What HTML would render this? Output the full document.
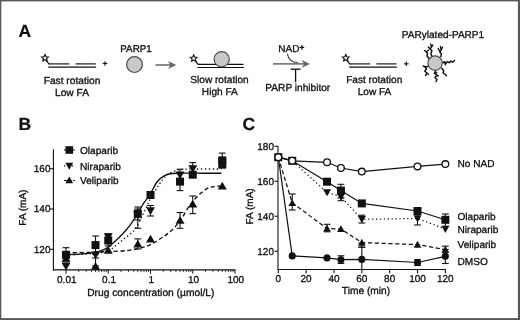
<!DOCTYPE html>
<html><head><meta charset="utf-8"><title>Figure</title>
<style>
html,body{margin:0;padding:0;background:#fff;}
body{width:520px;height:320px;overflow:hidden;position:relative;}
svg{position:absolute;left:0;top:0;text-rendering:geometricPrecision;font-family:'Liberation Sans', Arial, sans-serif;}
</style></head><body>
<svg width="520" height="320" viewBox="0 0 520 320">
<text x="18.5" y="37" font-size="17.5" text-anchor="start" font-weight="bold" fill="#111" stroke="#111" stroke-width="0.2" >A</text>
<text x="18.5" y="130" font-size="17.5" text-anchor="start" font-weight="bold" fill="#111" stroke="#111" stroke-width="0.2" >B</text>
<text x="242.5" y="129.5" font-size="17.5" text-anchor="start" font-weight="bold" fill="#111" stroke="#111" stroke-width="0.2" >C</text>
<line x1="46.20" y1="60.70" x2="49.60" y2="64.30" stroke="#111" stroke-width="1.15" />
<polygon points="45.00,54.60 45.99,56.74 48.33,57.02 46.60,58.62 47.06,60.93 45.00,59.78 42.94,60.93 43.40,58.62 41.67,57.02 44.01,56.74" fill="#fff" stroke="#111" stroke-width="1.2" stroke-linejoin="miter"/>
<line x1="48.80" y1="63.90" x2="69.40" y2="63.90" stroke="#111" stroke-width="1.15" />
<line x1="75.60" y1="63.90" x2="95.80" y2="63.90" stroke="#111" stroke-width="1.15" />
<line x1="48.30" y1="67.10" x2="96.10" y2="67.10" stroke="#111" stroke-width="1.15" />
<line x1="102.70" y1="63.50" x2="107.30" y2="63.50" stroke="#111" stroke-width="1.1" />
<line x1="105.00" y1="61.20" x2="105.00" y2="65.80" stroke="#111" stroke-width="1.1" />
<text x="72" y="83.5" font-size="10.2" text-anchor="middle" font-weight="normal" fill="#111" stroke="#111" stroke-width="0.32" >Fast rotation</text>
<text x="72" y="95.6" font-size="10.2" text-anchor="middle" font-weight="normal" fill="#111" stroke="#111" stroke-width="0.32" >Low FA</text>
<text x="136" y="51.8" font-size="9.8" text-anchor="middle" font-weight="normal" fill="#111" stroke="#111" stroke-width="0.32" >PARP1</text>
<circle cx="134.50" cy="64.60" r="7.9" fill="#c9c9c9" stroke="#4a4a4a" stroke-width="1.2"/>
<line x1="155.50" y1="65.00" x2="171.30" y2="65.00" stroke="#666" stroke-width="1.5" />
<polygon points="176.30,65.00 168.10,61.10 170.30,65.00 168.10,68.90" fill="#666"/>
<line x1="195.20" y1="61.00" x2="198.50" y2="64.60" stroke="#111" stroke-width="1.15" />
<polygon points="193.70,54.90 194.69,57.04 197.03,57.32 195.30,58.92 195.76,61.23 193.70,60.08 191.64,61.23 192.10,58.92 190.37,57.32 192.71,57.04" fill="#fff" stroke="#111" stroke-width="1.2" stroke-linejoin="miter"/>
<line x1="197.80" y1="64.40" x2="243.50" y2="64.40" stroke="#111" stroke-width="1.15" />
<line x1="197.30" y1="67.50" x2="244.00" y2="67.50" stroke="#111" stroke-width="1.15" />
<circle cx="221.70" cy="59.20" r="7.6" fill="#c9c9c9" stroke="#4a4a4a" stroke-width="1.2"/>
<text x="219.5" y="83.4" font-size="10.1" text-anchor="middle" font-weight="normal" fill="#111" stroke="#111" stroke-width="0.32" >Slow rotation</text>
<text x="219.8" y="95.4" font-size="10.1" text-anchor="middle" font-weight="normal" fill="#111" stroke="#111" stroke-width="0.32" >High FA</text>
<text x="278.3" y="52.2" font-size="10" text-anchor="start" font-weight="normal" fill="#111" stroke="#111" stroke-width="0.32" >NAD</text>
<line x1="299.60" y1="47.40" x2="304.20" y2="47.40" stroke="#111" stroke-width="1.25" />
<line x1="301.90" y1="45.10" x2="301.90" y2="49.70" stroke="#111" stroke-width="1.25" />
<line x1="273.00" y1="63.90" x2="305.00" y2="63.90" stroke="#666" stroke-width="1.5" />
<polygon points="310.00,63.90 301.80,60.00 304.00,63.90 301.80,67.80" fill="#666"/>
<path d="M287.3,53.6 C288.2,58.5 291.5,62.3 298,62.8" fill="none" stroke="#444" stroke-width="1.1"/>
<line x1="290.60" y1="69.20" x2="300.60" y2="69.20" stroke="#111" stroke-width="1.3" />
<line x1="295.60" y1="69.20" x2="295.60" y2="82.20" stroke="#111" stroke-width="1.3" />
<text x="297.8" y="91.2" font-size="10.15" text-anchor="middle" font-weight="normal" fill="#111" stroke="#111" stroke-width="0.32" >PARP inhibitor</text>
<line x1="347.00" y1="60.70" x2="350.40" y2="64.30" stroke="#111" stroke-width="1.15" />
<polygon points="345.80,54.60 346.79,56.74 349.13,57.02 347.40,58.62 347.86,60.93 345.80,59.78 343.74,60.93 344.20,58.62 342.47,57.02 344.81,56.74" fill="#fff" stroke="#111" stroke-width="1.2" stroke-linejoin="miter"/>
<line x1="349.60" y1="63.90" x2="370.20" y2="63.90" stroke="#111" stroke-width="1.15" />
<line x1="376.40" y1="63.90" x2="396.60" y2="63.90" stroke="#111" stroke-width="1.15" />
<line x1="349.10" y1="67.10" x2="396.90" y2="67.10" stroke="#111" stroke-width="1.15" />
<text x="374.2" y="83.3" font-size="10.1" text-anchor="middle" font-weight="normal" fill="#111" stroke="#111" stroke-width="0.32" >Fast rotation</text>
<text x="374.5" y="95.4" font-size="10.1" text-anchor="middle" font-weight="normal" fill="#111" stroke="#111" stroke-width="0.32" >Low FA</text>
<line x1="404.00" y1="63.80" x2="408.60" y2="63.80" stroke="#111" stroke-width="1.1" />
<line x1="406.30" y1="61.50" x2="406.30" y2="66.10" stroke="#111" stroke-width="1.1" />
<text x="443" y="37.6" font-size="10.05" text-anchor="middle" font-weight="normal" fill="#111" stroke="#111" stroke-width="0.32" >PARylated-PARP1</text>
<path d="M431.88,56.00 L430.75,53.50 L432.00,51.00 L430.25,49.00 L431.50,46.75 L430.75,44.25" fill="none" stroke="#111" stroke-width="1.45" stroke-linejoin="round" stroke-linecap="round"/>
<path d="M430.25,49.00 L428.25,47.00" fill="none" stroke="#111" stroke-width="1.45" stroke-linejoin="round" stroke-linecap="round"/>
<path d="M431.50,46.75 L432.75,45.00" fill="none" stroke="#111" stroke-width="1.45" stroke-linejoin="round" stroke-linecap="round"/>
<path d="M429.00,58.50 L427.00,56.00 L427.50,53.50 L426.25,51.50" fill="none" stroke="#111" stroke-width="1.45" stroke-linejoin="round" stroke-linecap="round"/>
<path d="M424.50,50.50 L426.25,51.75 L428.50,50.25" fill="none" stroke="#111" stroke-width="1.45" stroke-linejoin="round" stroke-linecap="round"/>
<path d="M440.75,56.50 L441.50,54.00 L440.00,52.00 L441.25,49.75 L440.50,46.50" fill="none" stroke="#111" stroke-width="1.45" stroke-linejoin="round" stroke-linecap="round"/>
<path d="M440.00,52.00 L438.25,48.50" fill="none" stroke="#111" stroke-width="1.45" stroke-linejoin="round" stroke-linecap="round"/>
<path d="M441.25,49.75 L442.50,47.25" fill="none" stroke="#111" stroke-width="1.45" stroke-linejoin="round" stroke-linecap="round"/>
<path d="M442.75,62.75 L444.50,61.75 L446.00,63.25 L447.50,61.50 L449.25,62.75 L450.75,61.00 L452.50,62.25 L454.50,60.50" fill="none" stroke="#111" stroke-width="1.45" stroke-linejoin="round" stroke-linecap="round"/>
<path d="M444.75,62.50 L445.50,64.75" fill="none" stroke="#111" stroke-width="1.45" stroke-linejoin="round" stroke-linecap="round"/>
<path d="M441.75,68.25 L443.75,71.00 L443.00,73.00 L445.00,74.25 L446.50,75.75" fill="none" stroke="#111" stroke-width="1.45" stroke-linejoin="round" stroke-linecap="round"/>
<path d="M435.75,70.50 L434.50,73.25 L436.75,75.25 L435.00,77.50 L437.00,79.50 L436.00,81.50" fill="none" stroke="#111" stroke-width="1.45" stroke-linejoin="round" stroke-linecap="round"/>
<path d="M434.50,73.25 L436.75,72.75" fill="none" stroke="#111" stroke-width="1.45" stroke-linejoin="round" stroke-linecap="round"/>
<path d="M436.75,75.25 L438.25,76.00" fill="none" stroke="#111" stroke-width="1.45" stroke-linejoin="round" stroke-linecap="round"/>
<path d="M428.00,66.50 L425.00,66.75 L426.50,69.00 L424.75,71.00 L427.00,73.25 L425.50,75.50" fill="none" stroke="#111" stroke-width="1.45" stroke-linejoin="round" stroke-linecap="round"/>
<path d="M425.00,66.75 L423.25,66.00" fill="none" stroke="#111" stroke-width="1.45" stroke-linejoin="round" stroke-linecap="round"/>
<path d="M427.00,73.25 L428.50,74.25" fill="none" stroke="#111" stroke-width="1.45" stroke-linejoin="round" stroke-linecap="round"/>
<circle cx="435.10" cy="63.10" r="7.2" fill="#c9c9c9" stroke="#4a4a4a" stroke-width="1.2"/>
<line x1="53.40" y1="149.20" x2="53.40" y2="270.40" stroke="#111" stroke-width="1.1" />
<line x1="52.90" y1="269.90" x2="235.50" y2="269.90" stroke="#111" stroke-width="1.1" />
<line x1="50.20" y1="249.30" x2="53.40" y2="249.30" stroke="#111" stroke-width="1.1" />
<text x="50.5" y="252.70000000000002" font-size="10" text-anchor="end" font-weight="normal" fill="#111" stroke="#111" stroke-width="0.32" >120</text>
<line x1="50.20" y1="209.00" x2="53.40" y2="209.00" stroke="#111" stroke-width="1.1" />
<text x="50.5" y="212.4" font-size="10" text-anchor="end" font-weight="normal" fill="#111" stroke="#111" stroke-width="0.32" >140</text>
<line x1="50.20" y1="168.70" x2="53.40" y2="168.70" stroke="#111" stroke-width="1.1" />
<text x="50.5" y="172.1" font-size="10" text-anchor="end" font-weight="normal" fill="#111" stroke="#111" stroke-width="0.32" >160</text>
<line x1="66.00" y1="269.90" x2="66.00" y2="273.70" stroke="#111" stroke-width="1.0" />
<line x1="78.72" y1="269.90" x2="78.72" y2="272.10" stroke="#111" stroke-width="0.8" />
<line x1="86.16" y1="269.90" x2="86.16" y2="272.10" stroke="#111" stroke-width="0.8" />
<line x1="91.44" y1="269.90" x2="91.44" y2="272.10" stroke="#111" stroke-width="0.8" />
<line x1="95.53" y1="269.90" x2="95.53" y2="272.10" stroke="#111" stroke-width="0.8" />
<line x1="98.88" y1="269.90" x2="98.88" y2="272.10" stroke="#111" stroke-width="0.8" />
<line x1="101.71" y1="269.90" x2="101.71" y2="272.10" stroke="#111" stroke-width="0.8" />
<line x1="104.16" y1="269.90" x2="104.16" y2="272.10" stroke="#111" stroke-width="0.8" />
<line x1="106.32" y1="269.90" x2="106.32" y2="272.10" stroke="#111" stroke-width="0.8" />
<line x1="108.25" y1="269.90" x2="108.25" y2="273.70" stroke="#111" stroke-width="1.0" />
<line x1="120.97" y1="269.90" x2="120.97" y2="272.10" stroke="#111" stroke-width="0.8" />
<line x1="128.41" y1="269.90" x2="128.41" y2="272.10" stroke="#111" stroke-width="0.8" />
<line x1="133.69" y1="269.90" x2="133.69" y2="272.10" stroke="#111" stroke-width="0.8" />
<line x1="137.78" y1="269.90" x2="137.78" y2="272.10" stroke="#111" stroke-width="0.8" />
<line x1="141.13" y1="269.90" x2="141.13" y2="272.10" stroke="#111" stroke-width="0.8" />
<line x1="143.96" y1="269.90" x2="143.96" y2="272.10" stroke="#111" stroke-width="0.8" />
<line x1="146.41" y1="269.90" x2="146.41" y2="272.10" stroke="#111" stroke-width="0.8" />
<line x1="148.57" y1="269.90" x2="148.57" y2="272.10" stroke="#111" stroke-width="0.8" />
<line x1="150.50" y1="269.90" x2="150.50" y2="273.70" stroke="#111" stroke-width="1.0" />
<line x1="163.22" y1="269.90" x2="163.22" y2="272.10" stroke="#111" stroke-width="0.8" />
<line x1="170.66" y1="269.90" x2="170.66" y2="272.10" stroke="#111" stroke-width="0.8" />
<line x1="175.94" y1="269.90" x2="175.94" y2="272.10" stroke="#111" stroke-width="0.8" />
<line x1="180.03" y1="269.90" x2="180.03" y2="272.10" stroke="#111" stroke-width="0.8" />
<line x1="183.38" y1="269.90" x2="183.38" y2="272.10" stroke="#111" stroke-width="0.8" />
<line x1="186.21" y1="269.90" x2="186.21" y2="272.10" stroke="#111" stroke-width="0.8" />
<line x1="188.66" y1="269.90" x2="188.66" y2="272.10" stroke="#111" stroke-width="0.8" />
<line x1="190.82" y1="269.90" x2="190.82" y2="272.10" stroke="#111" stroke-width="0.8" />
<line x1="192.75" y1="269.90" x2="192.75" y2="273.70" stroke="#111" stroke-width="1.0" />
<line x1="205.47" y1="269.90" x2="205.47" y2="272.10" stroke="#111" stroke-width="0.8" />
<line x1="212.91" y1="269.90" x2="212.91" y2="272.10" stroke="#111" stroke-width="0.8" />
<line x1="218.19" y1="269.90" x2="218.19" y2="272.10" stroke="#111" stroke-width="0.8" />
<line x1="222.28" y1="269.90" x2="222.28" y2="272.10" stroke="#111" stroke-width="0.8" />
<line x1="225.63" y1="269.90" x2="225.63" y2="272.10" stroke="#111" stroke-width="0.8" />
<line x1="228.46" y1="269.90" x2="228.46" y2="272.10" stroke="#111" stroke-width="0.8" />
<line x1="230.91" y1="269.90" x2="230.91" y2="272.10" stroke="#111" stroke-width="0.8" />
<line x1="233.07" y1="269.90" x2="233.07" y2="272.10" stroke="#111" stroke-width="0.8" />
<line x1="235.00" y1="269.90" x2="235.00" y2="273.70" stroke="#111" stroke-width="1.0" />
<text x="66.8" y="283.2" font-size="10" text-anchor="middle" font-weight="normal" fill="#111" stroke="#111" stroke-width="0.32" >0.01</text>
<text x="109.05" y="283.2" font-size="10" text-anchor="middle" font-weight="normal" fill="#111" stroke="#111" stroke-width="0.32" >0.1</text>
<text x="151.3" y="283.2" font-size="10" text-anchor="middle" font-weight="normal" fill="#111" stroke="#111" stroke-width="0.32" >1</text>
<text x="193.55" y="283.2" font-size="10" text-anchor="middle" font-weight="normal" fill="#111" stroke="#111" stroke-width="0.32" >10</text>
<text x="235.8" y="283.2" font-size="10" text-anchor="middle" font-weight="normal" fill="#111" stroke="#111" stroke-width="0.32" >100</text>
<text x="150.8" y="296.4" font-size="10.25" text-anchor="middle" font-weight="normal" fill="#111" stroke="#111" stroke-width="0.32" >Drug concentration (µmol/L)</text>
<text transform="translate(26.2,207.6) rotate(-90)" font-size="10" text-anchor="middle" fill="#111" stroke="#111" stroke-width="0.32">FA (mA)</text>
<path d="M66.00,252.80 C70.00,252.73 83.13,252.60 90.00,252.40 C96.87,252.20 100.75,251.95 107.20,251.60 C113.65,251.25 122.12,251.20 128.70,250.30 C135.28,249.40 141.32,248.20 146.70,246.20 C152.08,244.20 156.82,240.97 161.00,238.30 C165.18,235.63 168.50,233.28 171.80,230.20 C175.10,227.12 177.82,223.93 180.80,219.80 C183.78,215.67 186.72,209.50 189.70,205.40 C192.68,201.30 195.70,198.07 198.70,195.20 C201.70,192.33 205.15,189.63 207.70,188.20 C210.25,186.77 211.78,186.97 214.00,186.60 C216.22,186.23 219.83,186.10 221.00,186.00" fill="none" stroke="#111" stroke-width="1.35" stroke-dasharray="4.2 2.6"/>
<path d="M66.00,254.60 C69.17,254.53 79.33,254.50 85.00,254.20 C90.67,253.90 96.50,253.30 100.00,252.80 C103.50,252.30 104.23,251.73 106.00,251.20 C107.77,250.67 108.90,250.62 110.60,249.60 C112.30,248.58 114.32,246.58 116.20,245.10 C118.08,243.62 120.02,242.20 121.90,240.70 C123.78,239.20 125.63,237.60 127.50,236.10 C129.37,234.60 131.47,233.43 133.10,231.70 C134.73,229.97 136.12,227.65 137.30,225.70 C138.48,223.75 139.25,221.90 140.20,220.00 C141.15,218.10 141.87,216.63 143.00,214.30 C144.13,211.97 145.67,208.72 147.00,206.00 C148.33,203.28 148.97,201.58 151.00,198.00 C153.03,194.42 156.63,188.25 159.20,184.50 C161.77,180.75 163.70,177.78 166.40,175.50 C169.10,173.22 172.12,171.87 175.40,170.80 C178.68,169.73 182.00,169.40 186.10,169.10 C190.20,168.80 194.10,169.02 200.00,169.00 C205.90,168.98 217.92,169.00 221.50,169.00" fill="none" stroke="#111" stroke-width="1.35" stroke-dasharray="1.3 2.6"/>
<path d="M66.00,254.60 C68.33,254.53 75.17,254.58 80.00,254.20 C84.83,253.82 90.83,253.13 95.00,252.30 C99.17,251.47 102.17,250.58 105.00,249.20 C107.83,247.82 109.65,245.95 112.00,244.00 C114.35,242.05 116.75,239.83 119.10,237.50 C121.45,235.17 124.00,232.45 126.10,230.00 C128.20,227.55 130.18,224.87 131.70,222.80 C133.22,220.73 134.23,219.08 135.20,217.60 C136.17,216.12 136.08,216.30 137.50,213.90 C138.92,211.50 141.70,206.32 143.70,203.20 C145.70,200.08 147.22,198.82 149.50,195.20 C151.78,191.58 154.88,184.77 157.40,181.50 C159.92,178.23 162.20,176.93 164.60,175.60 C167.00,174.27 168.90,173.90 171.80,173.50 C174.70,173.10 177.30,173.25 182.00,173.20 C186.70,173.15 193.42,173.20 200.00,173.20 C206.58,173.20 217.92,173.20 221.50,173.20" fill="none" stroke="#111" stroke-width="1.35" />
<polygon points="66.00,254.22 61.50,261.82 70.50,261.82" fill="#111"/>
<line x1="95.53" y1="258.00" x2="95.53" y2="266.00" stroke="#111" stroke-width="1.1" />
<line x1="92.13" y1="258.00" x2="98.93" y2="258.00" stroke="#111" stroke-width="1.1" />
<line x1="92.13" y1="266.00" x2="98.93" y2="266.00" stroke="#111" stroke-width="1.1" />
<polygon points="95.53,262.12 91.03,269.72 100.03,269.72" fill="#111"/>
<polygon points="108.25,246.12 103.75,253.72 112.75,253.72" fill="#111"/>
<line x1="137.78" y1="238.90" x2="137.78" y2="249.00" stroke="#111" stroke-width="1.1" />
<line x1="134.38" y1="238.90" x2="141.18" y2="238.90" stroke="#111" stroke-width="1.1" />
<line x1="134.38" y1="249.00" x2="141.18" y2="249.00" stroke="#111" stroke-width="1.1" />
<polygon points="137.78,239.82 133.28,247.42 142.28,247.42" fill="#111"/>
<polygon points="150.50,234.82 146.00,242.42 155.00,242.42" fill="#111"/>
<line x1="180.03" y1="212.50" x2="180.03" y2="228.30" stroke="#111" stroke-width="1.1" />
<line x1="176.63" y1="212.50" x2="183.43" y2="212.50" stroke="#111" stroke-width="1.1" />
<line x1="176.63" y1="228.30" x2="183.43" y2="228.30" stroke="#111" stroke-width="1.1" />
<polygon points="180.03,216.22 175.53,223.82 184.53,223.82" fill="#111"/>
<line x1="192.75" y1="196.00" x2="192.75" y2="213.60" stroke="#111" stroke-width="1.1" />
<line x1="189.35" y1="196.00" x2="196.15" y2="196.00" stroke="#111" stroke-width="1.1" />
<line x1="189.35" y1="213.60" x2="196.15" y2="213.60" stroke="#111" stroke-width="1.1" />
<polygon points="192.75,200.02 188.25,207.62 197.25,207.62" fill="#111"/>
<polygon points="222.28,181.82 217.78,189.42 226.78,189.42" fill="#111"/>
<polygon points="66.00,270.38 61.50,262.78 70.50,262.78" fill="#111"/>
<polygon points="95.53,258.98 91.03,251.38 100.03,251.38" fill="#111"/>
<polygon points="108.25,240.78 103.75,233.18 112.75,233.18" fill="#111"/>
<line x1="137.78" y1="209.00" x2="137.78" y2="228.30" stroke="#111" stroke-width="1.1" />
<line x1="134.38" y1="209.00" x2="141.18" y2="209.00" stroke="#111" stroke-width="1.1" />
<line x1="134.38" y1="228.30" x2="141.18" y2="228.30" stroke="#111" stroke-width="1.1" />
<polygon points="137.78,219.18 133.28,211.58 142.28,211.58" fill="#111"/>
<line x1="150.50" y1="205.50" x2="150.50" y2="216.00" stroke="#111" stroke-width="1.1" />
<line x1="147.10" y1="205.50" x2="153.90" y2="205.50" stroke="#111" stroke-width="1.1" />
<line x1="147.10" y1="216.00" x2="153.90" y2="216.00" stroke="#111" stroke-width="1.1" />
<polygon points="150.50,214.88 146.00,207.28 155.00,207.28" fill="#111"/>
<polygon points="180.03,179.18 175.53,171.58 184.53,171.58" fill="#111"/>
<line x1="192.75" y1="162.60" x2="192.75" y2="176.00" stroke="#111" stroke-width="1.1" />
<line x1="189.35" y1="162.60" x2="196.15" y2="162.60" stroke="#111" stroke-width="1.1" />
<line x1="189.35" y1="176.00" x2="196.15" y2="176.00" stroke="#111" stroke-width="1.1" />
<polygon points="192.75,172.78 188.25,165.18 197.25,165.18" fill="#111"/>
<polygon points="222.28,166.18 217.78,158.58 226.78,158.58" fill="#111"/>
<line x1="66.00" y1="247.70" x2="66.00" y2="262.00" stroke="#111" stroke-width="1.1" />
<line x1="62.60" y1="247.70" x2="69.40" y2="247.70" stroke="#111" stroke-width="1.1" />
<line x1="62.60" y1="262.00" x2="69.40" y2="262.00" stroke="#111" stroke-width="1.1" />
<rect x="62.00" y="250.80" width="8.00" height="8.00" fill="#111"/>
<line x1="95.53" y1="236.00" x2="95.53" y2="254.00" stroke="#111" stroke-width="1.1" />
<line x1="92.13" y1="236.00" x2="98.93" y2="236.00" stroke="#111" stroke-width="1.1" />
<line x1="92.13" y1="254.00" x2="98.93" y2="254.00" stroke="#111" stroke-width="1.1" />
<rect x="91.53" y="241.10" width="8.00" height="8.00" fill="#111"/>
<line x1="108.25" y1="234.00" x2="108.25" y2="246.00" stroke="#111" stroke-width="1.1" />
<line x1="104.85" y1="234.00" x2="111.65" y2="234.00" stroke="#111" stroke-width="1.1" />
<line x1="104.85" y1="246.00" x2="111.65" y2="246.00" stroke="#111" stroke-width="1.1" />
<rect x="104.25" y="236.50" width="8.00" height="8.00" fill="#111"/>
<line x1="137.78" y1="207.00" x2="137.78" y2="220.00" stroke="#111" stroke-width="1.1" />
<line x1="134.38" y1="207.00" x2="141.18" y2="207.00" stroke="#111" stroke-width="1.1" />
<line x1="134.38" y1="220.00" x2="141.18" y2="220.00" stroke="#111" stroke-width="1.1" />
<rect x="133.78" y="209.80" width="8.00" height="8.00" fill="#111"/>
<rect x="146.50" y="191.00" width="8.00" height="8.00" fill="#111"/>
<line x1="180.03" y1="169.20" x2="180.03" y2="190.60" stroke="#111" stroke-width="1.1" />
<line x1="176.63" y1="169.20" x2="183.43" y2="169.20" stroke="#111" stroke-width="1.1" />
<line x1="176.63" y1="190.60" x2="183.43" y2="190.60" stroke="#111" stroke-width="1.1" />
<rect x="176.03" y="177.60" width="8.00" height="8.00" fill="#111"/>
<rect x="188.75" y="170.70" width="8.00" height="8.00" fill="#111"/>
<line x1="222.28" y1="153.10" x2="222.28" y2="167.80" stroke="#111" stroke-width="1.1" />
<line x1="218.88" y1="153.10" x2="225.68" y2="153.10" stroke="#111" stroke-width="1.1" />
<line x1="218.88" y1="167.80" x2="225.68" y2="167.80" stroke="#111" stroke-width="1.1" />
<rect x="218.28" y="156.40" width="8.00" height="8.00" fill="#111"/>
<rect x="218.28" y="160.50" width="8.00" height="8.00" fill="#111"/>
<line x1="64.00" y1="150.00" x2="74.80" y2="150.00" stroke="#111" stroke-width="1.1" />
<rect x="65.50" y="146.20" width="7.60" height="7.60" fill="#111"/>
<text x="80" y="153.7" font-size="10.1" text-anchor="start" font-weight="normal" fill="#111" stroke="#111" stroke-width="0.32" >Olaparib</text>
<line x1="64.00" y1="165.90" x2="74.80" y2="165.90" stroke="#111" stroke-width="1.1" stroke-dasharray="1.3 2.6"/>
<polygon points="69.30,169.64 65.40,162.84 73.20,162.84" fill="#111"/>
<text x="80" y="170" font-size="10.1" text-anchor="start" font-weight="normal" fill="#111" stroke="#111" stroke-width="0.32" >Niraparib</text>
<line x1="64.00" y1="180.50" x2="74.80" y2="180.50" stroke="#111" stroke-width="1.1" stroke-dasharray="3 1.5"/>
<polygon points="69.30,176.46 65.40,183.26 73.20,183.26" fill="#111"/>
<text x="80" y="184" font-size="10.1" text-anchor="start" font-weight="normal" fill="#111" stroke="#111" stroke-width="0.32" >Veliparib</text>
<line x1="278.00" y1="146.00" x2="278.00" y2="270.00" stroke="#111" stroke-width="1.1" />
<line x1="277.50" y1="269.50" x2="446.00" y2="269.50" stroke="#111" stroke-width="1.1" />
<line x1="274.60" y1="251.25" x2="278.00" y2="251.25" stroke="#111" stroke-width="1.1" />
<text x="274" y="254.65" font-size="10" text-anchor="end" font-weight="normal" fill="#111" stroke="#111" stroke-width="0.32" >120</text>
<line x1="274.60" y1="216.25" x2="278.00" y2="216.25" stroke="#111" stroke-width="1.1" />
<text x="274" y="219.65" font-size="10" text-anchor="end" font-weight="normal" fill="#111" stroke="#111" stroke-width="0.32" >140</text>
<line x1="274.60" y1="181.25" x2="278.00" y2="181.25" stroke="#111" stroke-width="1.1" />
<text x="274" y="184.65" font-size="10" text-anchor="end" font-weight="normal" fill="#111" stroke="#111" stroke-width="0.32" >160</text>
<line x1="274.60" y1="146.25" x2="278.00" y2="146.25" stroke="#111" stroke-width="1.1" />
<text x="274" y="149.65" font-size="10" text-anchor="end" font-weight="normal" fill="#111" stroke="#111" stroke-width="0.32" >180</text>
<line x1="278.30" y1="269.50" x2="278.30" y2="273.30" stroke="#111" stroke-width="1.1" />
<text x="278.3" y="281.5" font-size="10" text-anchor="middle" font-weight="normal" fill="#111" stroke="#111" stroke-width="0.32" >0</text>
<line x1="306.14" y1="269.50" x2="306.14" y2="273.30" stroke="#111" stroke-width="1.1" />
<text x="306.14" y="281.5" font-size="10" text-anchor="middle" font-weight="normal" fill="#111" stroke="#111" stroke-width="0.32" >20</text>
<line x1="333.98" y1="269.50" x2="333.98" y2="273.30" stroke="#111" stroke-width="1.1" />
<text x="333.98" y="281.5" font-size="10" text-anchor="middle" font-weight="normal" fill="#111" stroke="#111" stroke-width="0.32" >40</text>
<line x1="361.82" y1="269.50" x2="361.82" y2="273.30" stroke="#111" stroke-width="1.1" />
<text x="361.82" y="281.5" font-size="10" text-anchor="middle" font-weight="normal" fill="#111" stroke="#111" stroke-width="0.32" >60</text>
<line x1="389.66" y1="269.50" x2="389.66" y2="273.30" stroke="#111" stroke-width="1.1" />
<text x="389.65999999999997" y="281.5" font-size="10" text-anchor="middle" font-weight="normal" fill="#111" stroke="#111" stroke-width="0.32" >80</text>
<line x1="417.50" y1="269.50" x2="417.50" y2="273.30" stroke="#111" stroke-width="1.1" />
<text x="417.5" y="281.5" font-size="10" text-anchor="middle" font-weight="normal" fill="#111" stroke="#111" stroke-width="0.32" >100</text>
<line x1="445.34" y1="269.50" x2="445.34" y2="273.30" stroke="#111" stroke-width="1.1" />
<text x="445.34000000000003" y="281.5" font-size="10" text-anchor="middle" font-weight="normal" fill="#111" stroke="#111" stroke-width="0.32" >120</text>
<text x="366" y="294" font-size="10.2" text-anchor="middle" font-weight="normal" fill="#111" stroke="#111" stroke-width="0.32" >Time (min)</text>
<text transform="translate(253,206.4) rotate(-90)" font-size="10" text-anchor="middle" fill="#111" stroke="#111" stroke-width="0.32">FA (mA)</text>
<polyline points="278.30,157.20 292.22,255.90 327.02,257.90 340.94,259.70 361.82,259.40 417.50,262.50 445.34,256.30" fill="none" stroke="#111" stroke-width="1.2" />
<polyline points="278.30,157.20 292.22,202.90 327.02,228.50 340.94,229.00 361.82,242.60 417.50,244.60 445.34,249.60" fill="none" stroke="#111" stroke-width="1.2" stroke-dasharray="4.2 2.6"/>
<polyline points="278.30,157.20 292.22,160.80 327.02,192.40 340.94,196.70 361.82,219.30 417.50,218.50 445.34,229.00" fill="none" stroke="#111" stroke-width="1.2" stroke-dasharray="1.3 2.6"/>
<polyline points="278.30,157.20 292.22,160.80 327.02,181.70 340.94,190.60 361.82,203.40 417.50,211.00 445.34,219.80" fill="none" stroke="#111" stroke-width="1.2" />
<polyline points="278.30,157.20 292.22,160.80 327.02,162.30 340.94,168.00 361.82,171.60 417.50,166.40 445.34,164.10" fill="none" stroke="#111" stroke-width="1.2" />
<circle cx="278.30" cy="157.20" r="3.55" fill="#111" stroke="none" stroke-width="1"/>
<circle cx="292.22" cy="255.90" r="3.55" fill="#111" stroke="none" stroke-width="1"/>
<circle cx="327.02" cy="257.90" r="3.55" fill="#111" stroke="none" stroke-width="1"/>
<line x1="340.94" y1="255.80" x2="340.94" y2="263.40" stroke="#111" stroke-width="1.1" />
<line x1="337.54" y1="255.80" x2="344.34" y2="255.80" stroke="#111" stroke-width="1.1" />
<line x1="337.54" y1="263.40" x2="344.34" y2="263.40" stroke="#111" stroke-width="1.1" />
<circle cx="340.94" cy="259.70" r="3.55" fill="#111" stroke="none" stroke-width="1"/>
<line x1="361.82" y1="247.10" x2="361.82" y2="269.50" stroke="#111" stroke-width="1.1" />
<line x1="358.42" y1="247.10" x2="365.22" y2="247.10" stroke="#111" stroke-width="1.1" />
<line x1="358.42" y1="269.50" x2="365.22" y2="269.50" stroke="#111" stroke-width="1.1" />
<circle cx="361.82" cy="259.40" r="3.55" fill="#111" stroke="none" stroke-width="1"/>
<line x1="417.50" y1="259.50" x2="417.50" y2="265.50" stroke="#111" stroke-width="1.1" />
<line x1="414.10" y1="259.50" x2="420.90" y2="259.50" stroke="#111" stroke-width="1.1" />
<line x1="414.10" y1="265.50" x2="420.90" y2="265.50" stroke="#111" stroke-width="1.1" />
<circle cx="417.50" cy="262.50" r="3.55" fill="#111" stroke="none" stroke-width="1"/>
<line x1="445.34" y1="249.50" x2="445.34" y2="263.50" stroke="#111" stroke-width="1.1" />
<line x1="441.94" y1="249.50" x2="448.74" y2="249.50" stroke="#111" stroke-width="1.1" />
<line x1="441.94" y1="263.50" x2="448.74" y2="263.50" stroke="#111" stroke-width="1.1" />
<circle cx="445.34" cy="256.30" r="3.55" fill="#111" stroke="none" stroke-width="1"/>
<polygon points="278.30,153.46 274.50,160.26 282.10,160.26" fill="#111"/>
<line x1="292.22" y1="194.00" x2="292.22" y2="210.00" stroke="#111" stroke-width="1.1" />
<line x1="288.82" y1="194.00" x2="295.62" y2="194.00" stroke="#111" stroke-width="1.1" />
<line x1="288.82" y1="210.00" x2="295.62" y2="210.00" stroke="#111" stroke-width="1.1" />
<polygon points="292.22,199.16 288.42,205.96 296.02,205.96" fill="#111"/>
<line x1="327.02" y1="224.30" x2="327.02" y2="231.80" stroke="#111" stroke-width="1.1" />
<line x1="323.62" y1="224.30" x2="330.42" y2="224.30" stroke="#111" stroke-width="1.1" />
<line x1="323.62" y1="231.80" x2="330.42" y2="231.80" stroke="#111" stroke-width="1.1" />
<polygon points="327.02,224.76 323.22,231.56 330.82,231.56" fill="#111"/>
<polygon points="340.94,225.26 337.14,232.06 344.74,232.06" fill="#111"/>
<line x1="361.82" y1="243.00" x2="361.82" y2="247.30" stroke="#111" stroke-width="1.1" />
<line x1="358.42" y1="243.00" x2="365.22" y2="243.00" stroke="#111" stroke-width="1.1" />
<line x1="358.42" y1="247.30" x2="365.22" y2="247.30" stroke="#111" stroke-width="1.1" />
<polygon points="361.82,238.86 358.02,245.66 365.62,245.66" fill="#111"/>
<polygon points="417.50,240.86 413.70,247.66 421.30,247.66" fill="#111"/>
<line x1="445.34" y1="246.20" x2="445.34" y2="252.00" stroke="#111" stroke-width="1.1" />
<line x1="441.94" y1="246.20" x2="448.74" y2="246.20" stroke="#111" stroke-width="1.1" />
<line x1="441.94" y1="252.00" x2="448.74" y2="252.00" stroke="#111" stroke-width="1.1" />
<polygon points="445.34,245.86 441.54,252.66 449.14,252.66" fill="#111"/>
<polygon points="278.30,161.16 274.30,153.96 282.30,153.96" fill="#111"/>
<polygon points="292.22,164.76 288.22,157.56 296.22,157.56" fill="#111"/>
<polygon points="327.02,196.36 323.02,189.16 331.02,189.16" fill="#111"/>
<line x1="340.94" y1="192.00" x2="340.94" y2="200.70" stroke="#111" stroke-width="1.1" />
<line x1="337.54" y1="192.00" x2="344.34" y2="192.00" stroke="#111" stroke-width="1.1" />
<line x1="337.54" y1="200.70" x2="344.34" y2="200.70" stroke="#111" stroke-width="1.1" />
<polygon points="340.94,200.66 336.94,193.46 344.94,193.46" fill="#111"/>
<line x1="361.82" y1="215.20" x2="361.82" y2="223.00" stroke="#111" stroke-width="1.1" />
<line x1="358.42" y1="215.20" x2="365.22" y2="215.20" stroke="#111" stroke-width="1.1" />
<line x1="358.42" y1="223.00" x2="365.22" y2="223.00" stroke="#111" stroke-width="1.1" />
<polygon points="361.82,223.26 357.82,216.06 365.82,216.06" fill="#111"/>
<line x1="417.50" y1="213.00" x2="417.50" y2="225.00" stroke="#111" stroke-width="1.1" />
<line x1="414.10" y1="213.00" x2="420.90" y2="213.00" stroke="#111" stroke-width="1.1" />
<line x1="414.10" y1="225.00" x2="420.90" y2="225.00" stroke="#111" stroke-width="1.1" />
<polygon points="417.50,222.46 413.50,215.26 421.50,215.26" fill="#111"/>
<polygon points="445.34,232.96 441.34,225.76 449.34,225.76" fill="#111"/>
<rect x="274.30" y="153.20" width="8.00" height="8.00" fill="#111"/>
<rect x="288.22" y="156.80" width="8.00" height="8.00" fill="#111"/>
<rect x="323.02" y="177.70" width="8.00" height="8.00" fill="#111"/>
<line x1="340.94" y1="184.30" x2="340.94" y2="197.80" stroke="#111" stroke-width="1.1" />
<line x1="337.54" y1="184.30" x2="344.34" y2="184.30" stroke="#111" stroke-width="1.1" />
<line x1="337.54" y1="197.80" x2="344.34" y2="197.80" stroke="#111" stroke-width="1.1" />
<rect x="336.94" y="186.60" width="8.00" height="8.00" fill="#111"/>
<rect x="357.82" y="199.40" width="8.00" height="8.00" fill="#111"/>
<rect x="413.50" y="207.00" width="8.00" height="8.00" fill="#111"/>
<line x1="445.34" y1="214.00" x2="445.34" y2="226.50" stroke="#111" stroke-width="1.1" />
<line x1="441.94" y1="214.00" x2="448.74" y2="214.00" stroke="#111" stroke-width="1.1" />
<line x1="441.94" y1="226.50" x2="448.74" y2="226.50" stroke="#111" stroke-width="1.1" />
<rect x="441.34" y="215.80" width="8.00" height="8.00" fill="#111"/>
<circle cx="278.30" cy="157.20" r="3.35" fill="#fff" stroke="#111" stroke-width="1.3"/>
<circle cx="292.22" cy="160.80" r="3.35" fill="#fff" stroke="#111" stroke-width="1.3"/>
<circle cx="327.02" cy="162.30" r="3.35" fill="#fff" stroke="#111" stroke-width="1.3"/>
<circle cx="340.94" cy="168.00" r="3.35" fill="#fff" stroke="#111" stroke-width="1.3"/>
<circle cx="361.82" cy="171.60" r="3.35" fill="#fff" stroke="#111" stroke-width="1.3"/>
<circle cx="417.50" cy="166.40" r="3.35" fill="#fff" stroke="#111" stroke-width="1.3"/>
<circle cx="445.34" cy="164.10" r="3.35" fill="#fff" stroke="#111" stroke-width="1.3"/>
<text x="457.5" y="167.0" font-size="10.1" text-anchor="start" font-weight="normal" fill="#111" stroke="#111" stroke-width="0.32" >No NAD</text>
<text x="457.5" y="220.3" font-size="10.1" text-anchor="start" font-weight="normal" fill="#111" stroke="#111" stroke-width="0.32" >Olaparib</text>
<text x="457.5" y="232.8" font-size="10.1" text-anchor="start" font-weight="normal" fill="#111" stroke="#111" stroke-width="0.32" >Niraparib</text>
<text x="457.5" y="248" font-size="10.1" text-anchor="start" font-weight="normal" fill="#111" stroke="#111" stroke-width="0.32" >Veliparib</text>
<text x="457.5" y="265.2" font-size="10.1" text-anchor="start" font-weight="normal" fill="#111" stroke="#111" stroke-width="0.32" >DMSO</text>
<rect x="0" y="0" width="520" height="1.4" fill="#585858"/>
<rect x="0" y="318.1" width="520" height="1.9" fill="#585858"/>
<rect x="0" y="0" width="1.3" height="320" fill="#585858"/>
<rect x="517.9" y="0" width="2.1" height="320" fill="#585858"/>
</svg>
</body></html>
